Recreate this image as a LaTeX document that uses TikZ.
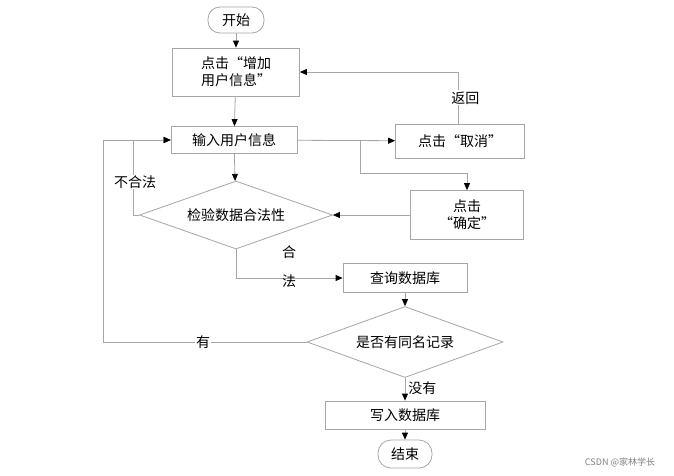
\documentclass[tikz,border=0pt]{standalone}
\usepackage{fontspec}
\setmainfont{Noto Sans CJK SC}
\usetikzlibrary{shapes.geometric,arrows.meta}
\begin{document}
\begin{tikzpicture}[x=1pt,y=-1pt,
  every node/.style={font=\fontsize{14}{17}\selectfont},
  bx/.style={draw=gray!70,line width=0.8pt,rectangle,inner sep=0pt,align=center},
  dm/.style={draw=gray!70,line width=0.8pt,diamond,aspect=2.85,inner sep=1pt},
  tm/.style={draw=gray!70,line width=0.8pt,rounded rectangle,inner sep=2pt},
  ln/.style={draw=gray!70,line width=0.8pt},
  ar/.style={ln,-{Triangle[black,length=7pt,width=6pt]}},
  lb/.style={fill=none,inner sep=1pt}]
\useasboundingbox (0,0) rectangle (674,475);
\fill[white] (0,0) rectangle (674,475);
\node[bx,minimum width=56pt,minimum height=26pt,rounded corners=12pt] (s) at (236,20) {开始};
\node[bx,minimum width=127pt,minimum height=48pt] (b1) at (236,72) {点击“增加\\用户信息”};
\node[bx,minimum width=126pt,minimum height=27pt] (in) at (234,140) {输入用户信息};
\node[bx,minimum width=129pt,minimum height=34pt] (qx) at (460,141) {点击“取消”};
\node[bx,minimum width=113pt,minimum height=49pt] (qd) at (467,215) {点击\\“确定”};
\node[dm,minimum width=193pt,minimum height=68pt] (d1) at (236,215) {检验数据合法性};
\node[bx,minimum width=124pt,minimum height=29pt] (cx) at (405,278) {查询数据库};
\node[dm,minimum width=196pt,minimum height=71pt] (d2) at (405,342) {是否有同名记录};
\node[bx,minimum width=160pt,minimum height=28pt] (xr) at (405,415) {写入数据库};
\node[bx,minimum width=54pt,minimum height=28pt,rounded corners=13pt] (e) at (405,454) {结束};
\coordinate (br) at (360,140);
\draw[ar] (s) -- (b1);
\draw[ar] (b1) -- (in);
\draw[ar] (in) -- (qx);
\draw[ar] (br) |- (467,173) -- (qd.north);
\draw[ar] (qx.north -| 458,0) |- (b1.east) node[pos=0.25,right=-8pt,lb,fill=white] {返回};
\draw[ar] (qd) -- (d1.east);
\draw[ar] (in) -- (d1);
\draw[ar] (d1.west) -- (133,215) |- (in.west);
\node[lb,fill=white] at (135,182) {不合法};
\draw[ar] (d1.south) |- (cx.west);
\node[lb] at (289,252) {合};
\node[lb] at (289,281) {法};
\draw[ar] (cx) -- (d2);
\draw[ar] (d2.west) -- (103,342) |- (in.west);
\node[lb,fill=white] at (203,342) {有};
\draw[ar] (d2.south) -- (xr) node[pos=0.45,right=2pt,lb] {没有};
\draw[ar] (xr) -- (e);
\node[font=\fontsize{9}{10}\selectfont,text=gray] at (620,462) {CSDN @家林学长};
\end{tikzpicture}
\end{document}
